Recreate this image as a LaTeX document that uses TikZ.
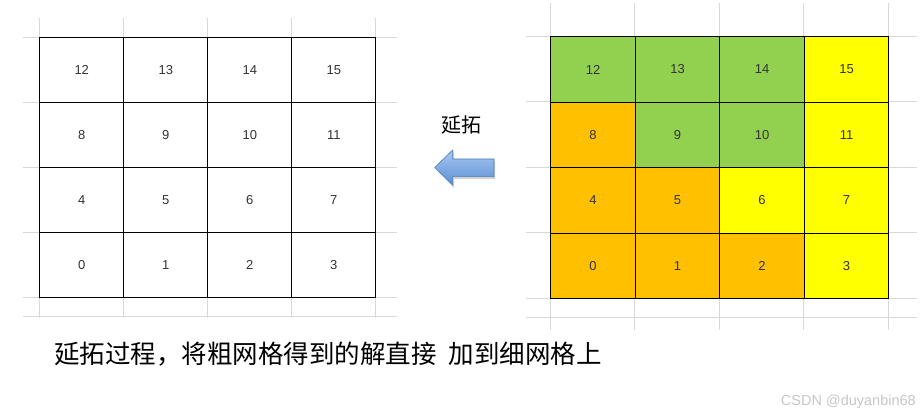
\documentclass[tikz,border=0pt]{standalone}
\usepackage{fontspec}
\setmainfont{Liberation Sans}
\newfontfamily\cjk{Noto Sans CJK SC}
\definecolor{gridgray}{HTML}{D9D9D9}
\definecolor{xlgreen}{HTML}{92D050}
\definecolor{xlorange}{HTML}{FFC000}
\definecolor{xlyellow}{HTML}{FFFF00}
\definecolor{arrowtop}{HTML}{A9C8F2}
\definecolor{arrowbot}{HTML}{5B8FD3}
\definecolor{arrowline}{HTML}{4A7EBB}
\definecolor{numcol}{HTML}{333333}
\begin{document}
\begin{tikzpicture}[x=1pt,y=-1pt,
  cell/.style={draw=black,line width=0.9pt,minimum width=84pt,minimum height=65pt,inner sep=0pt,anchor=north west,font=\fontsize{13}{13}\selectfont,text=numcol},
  gl/.style={draw=gridgray,line width=1pt},
  green/.style={fill=xlgreen},
  orange/.style={fill=xlorange},
  yellow/.style={fill=xlyellow}]
\useasboundingbox (0,0) rectangle (921,419);
\fill[white] (0,0) rectangle (921,419);
% left background grid lines
\foreach \x in {39.3,123.3,207.3,291.3,375.3} \draw[gl] (\x,18) -- (\x,318);
\foreach \y in {37.3,102.3,167.3,232.3,297.3,316.7} \draw[gl] (23,\y) -- (397,\y);
% right background grid lines
\foreach \x in {550.3,634.8,719.3,803.8,888.3} \draw[gl] (\x,3) -- (\x,330);
\foreach \y in {36.3,101.8,167.3,232.8,298.3,317.3} \draw[gl] (526,\y) -- (917,\y);
% left grid cells
\foreach \n [count=\i from 0] in {12,13,14,15,8,9,10,11,4,5,6,7,0,1,2,3} {
  \pgfmathtruncatemacro{\c}{mod(\i,4)}
  \pgfmathtruncatemacro{\r}{div(\i,4)}
  \node[cell] (L\n) at (39.3+84*\c,37.3+65*\r) {\n};
}
% right grid cells
\foreach \n/\st [count=\i from 0] in {12/green,13/green,14/green,15/yellow,8/orange,9/green,10/green,11/yellow,4/orange,5/orange,6/yellow,7/yellow,0/orange,1/orange,2/orange,3/yellow} {
  \pgfmathtruncatemacro{\c}{mod(\i,4)}
  \pgfmathtruncatemacro{\r}{div(\i,4)}
  \node[cell,\st,minimum width=84.5pt,minimum height=65.5pt] (R\n) at (550.3+84.5*\c,36.3+65.5*\r) {\n};
}
% label and arrow
\node[font=\cjk\fontsize{20}{20}\selectfont] (lab) at (461,125) {延拓};
\fill[black!18] (436,169) -- (454,152) -- (454,161) -- (495,161) -- (495,179) -- (454,179) -- (454,188) -- cycle;
\shade[top color=arrowtop,bottom color=arrowbot,draw=arrowline,line width=0.6pt]
  (434.7,167.5) -- (452.7,150) -- (452.7,159) -- (494,159) -- (494,176.7) -- (452.7,176.7) -- (452.7,185) -- cycle;
% caption
\node[font=\cjk\fontsize{25.5}{25.5}\selectfont,anchor=west,inner sep=0pt] (cap) at (54,354) {延拓过程，将粗网格得到的解直接\hspace{12pt}加到细网格上};
\node[font=\fontsize{14.5}{14.5}\selectfont,text=black!22,anchor=east,inner sep=0pt] (wm) at (916,402) {CSDN @duyanbin68};
\end{tikzpicture}
\end{document}
